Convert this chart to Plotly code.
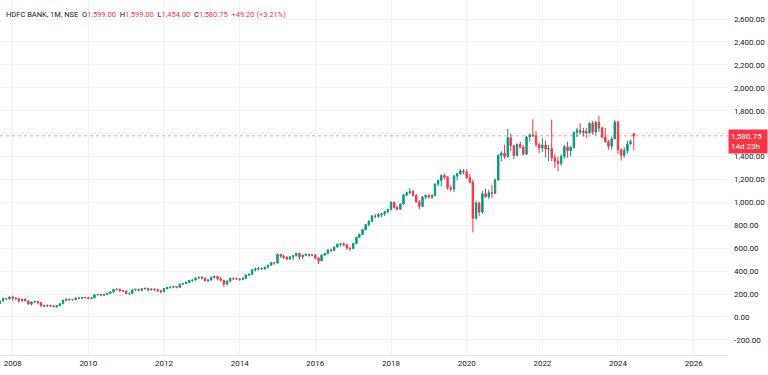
import pandas as pd
import plotly.graph_objects as go

# Monthly candles, HDFC BANK (NSE), split-adjusted, Sep 2007 - Jun 2024
start_month = "2007-09-01"

opens = [
    118, 140, 160, 158,
    174, 165, 160, 140, 156, 140, 112, 130, 136, 125, 100, 95,
    102, 95, 89, 98, 115, 146, 155, 152, 150, 166, 162, 170,
    168, 160, 166, 194, 196, 190, 196, 206, 218, 242, 240, 228,
    226, 205, 206, 236, 240, 232, 246, 250, 236, 242, 240, 230,
    220, 248, 256, 260, 266, 258, 286, 292, 300, 318, 322, 340,
    346, 338, 316, 322, 346, 354, 334, 320, 288, 314, 338, 334,
    332, 328, 338, 366, 372, 410, 420, 424, 420, 434, 452, 474,
    470, 545, 530, 520, 505, 525, 535, 555, 525, 538, 545, 538,
    542, 515, 490, 540, 555, 585, 580, 610, 635, 638, 628, 602,
    598, 640, 695, 720, 762, 805, 835, 882, 878, 893, 900, 920,
    938, 1000, 955, 940, 985, 1065, 1085, 1095, 1060, 1005, 965, 1045,
    1060, 1045, 1060, 1160, 1190, 1235, 1220, 1125, 1115, 1230, 1250, 1275,
    1265, 1215, 1175, 862, 995, 915, 1075, 1050, 1085, 1080, 1195, 1410,
    1430, 1400, 1565, 1495, 1410, 1505, 1482, 1420, 1570, 1588, 1580, 1505,
    1475, 1500, 1465, 1470, 1390, 1360, 1340, 1400, 1485, 1450, 1480, 1610,
    1630, 1610, 1620, 1605, 1690, 1615, 1700, 1650, 1570, 1530, 1490, 1555,
    1700, 1460, 1410, 1450, 1510, 1599,
]
highs = [
    142, 172, 166, 180,
    186, 172, 162, 160, 158, 142, 135, 140, 140, 128, 108, 105,
    104, 100, 102, 118, 150, 160, 160, 158, 168, 175, 172, 175,
    175, 170, 198, 202, 198, 200, 212, 222, 245, 252, 250, 236,
    230, 212, 238, 248, 245, 250, 255, 252, 250, 250, 245, 236,
    250, 262, 266, 270, 270, 290, 298, 305, 322, 330, 345, 352,
    356, 345, 332, 350, 362, 358, 348, 324, 318, 342, 345, 342,
    340, 342, 372, 380, 418, 432, 435, 430, 440, 455, 478, 480,
    555, 550, 545, 530, 530, 540, 560, 562, 545, 555, 552, 550,
    545, 520, 545, 560, 590, 595, 615, 640, 648, 650, 640, 610,
    648, 700, 728, 768, 810, 845, 890, 900, 905, 910, 925, 945,
    1010, 1005, 970, 990, 1075, 1095, 1125, 1110, 1075, 1020, 1055, 1070,
    1075, 1070, 1165, 1200, 1245, 1250, 1230, 1150, 1240, 1260, 1290, 1290,
    1290, 1250, 1200, 1015, 1005, 1100, 1120, 1110, 1150, 1210, 1420, 1445,
    1505, 1640, 1600, 1500, 1515, 1530, 1500, 1580, 1600, 1725, 1620, 1520,
    1560, 1540, 1500, 1722, 1420, 1400, 1420, 1500, 1530, 1490, 1620, 1650,
    1690, 1650, 1650, 1700, 1710, 1710, 1757, 1660, 1650, 1545, 1570, 1720,
    1710, 1470, 1480, 1540, 1550, 1599,
]
lows = [
    115, 136, 145, 155,
    140, 150, 125, 136, 138, 108, 100, 122, 110, 88, 85, 88,
    88, 86, 80, 96, 112, 140, 140, 145, 148, 155, 158, 163,
    155, 156, 165, 186, 180, 185, 192, 200, 215, 232, 220, 218,
    198, 190, 202, 228, 222, 222, 238, 222, 230, 225, 218, 205,
    218, 240, 248, 252, 250, 255, 280, 286, 296, 306, 318, 330,
    332, 312, 306, 318, 334, 318, 310, 262, 274, 300, 322, 324,
    315, 320, 335, 355, 365, 398, 405, 410, 412, 422, 448, 455,
    468, 515, 505, 495, 500, 495, 530, 500, 505, 530, 525, 528,
    500, 462, 488, 530, 545, 565, 575, 605, 615, 620, 585, 575,
    592, 635, 690, 715, 755, 790, 830, 860, 865, 870, 880, 905,
    930, 945, 930, 935, 980, 1050, 1070, 1050, 995, 940, 960, 1030,
    1035, 1030, 1055, 1140, 1140, 1200, 1110, 1095, 1090, 1190, 1240, 1245,
    1205, 1165, 738, 850, 880, 900, 1040, 1030, 1040, 1075, 1190, 1360,
    1380, 1390, 1450, 1380, 1400, 1470, 1410, 1415, 1530, 1570, 1480, 1430,
    1440, 1390, 1360, 1360, 1300, 1272, 1320, 1380, 1390, 1400, 1470, 1570,
    1590, 1575, 1560, 1600, 1590, 1585, 1615, 1555, 1520, 1460, 1460, 1550,
    1420, 1365, 1390, 1430, 1505, 1454,
]
closes = [
    140, 160, 158, 174,
    165, 160, 140, 156, 140, 112, 130, 136, 125, 100, 95, 102,
    95, 89, 98, 115, 146, 155, 152, 150, 166, 162, 170, 168,
    160, 166, 194, 196, 190, 196, 206, 218, 242, 240, 228, 226,
    205, 206, 236, 240, 232, 246, 250, 236, 242, 240, 230, 220,
    248, 256, 260, 266, 258, 286, 292, 300, 318, 322, 340, 346,
    338, 316, 322, 346, 354, 334, 320, 288, 314, 338, 334, 332,
    328, 338, 366, 372, 410, 420, 424, 420, 434, 452, 474, 470,
    545, 530, 520, 505, 525, 535, 555, 525, 538, 545, 538, 542,
    515, 490, 540, 555, 585, 580, 610, 635, 638, 628, 602, 598,
    640, 695, 720, 762, 805, 835, 882, 878, 893, 900, 920, 938,
    1000, 955, 940, 985, 1065, 1085, 1095, 1060, 1005, 965, 1045, 1060,
    1045, 1060, 1160, 1190, 1235, 1220, 1125, 1115, 1230, 1250, 1275, 1265,
    1215, 1175, 862, 995, 915, 1075, 1050, 1085, 1080, 1195, 1410, 1430,
    1400, 1565, 1495, 1410, 1505, 1482, 1420, 1570, 1588, 1580, 1505, 1475,
    1500, 1465, 1470, 1390, 1360, 1340, 1400, 1485, 1450, 1480, 1610, 1630,
    1610, 1620, 1605, 1690, 1615, 1700, 1650, 1570, 1530, 1490, 1555, 1700,
    1460, 1410, 1450, 1510, 1531.55, 1580.75,
]

year_ticks = ["2008", "2010", "2012", "2014", "2016", "2018", "2020", "2022", "2024", "2026"]
price_ticks = [-200, 0, 200, 400, 600, 800, 1000, 1200, 1400, 1600, 1800, 2000, 2200, 2400, 2600]
hidden_price_ticks = [1600]  # covered by the last-price label in the reference
last_price = 1580.75
header_values = {"O": "1,599.00", "H": "1,599.00", "L": "1,454.00", "C": "1,580.75"}
change_text = "+49.20 (+3.21%)"
countdown = "14d 23h"

GREEN = "#089981"
RED = "#F23645"
TEXT = "#131722"
GRID = "#f0f3fa"
FONT = "Roboto, Arial, sans-serif"

dates = pd.date_range(start_month, periods=len(closes), freq="MS")

fig = go.Figure(
    go.Candlestick(
        x=dates,
        open=opens,
        high=highs,
        low=lows,
        close=closes,
        increasing=dict(line=dict(color=GREEN, width=1), fillcolor=GREEN),
        decreasing=dict(line=dict(color=RED, width=1), fillcolor=RED),
        whiskerwidth=0,
        hoverinfo="skip",
        showlegend=False,
    )
)

# last-price dotted line
fig.add_shape(
    type="line", xref="paper", x0=0, x1=1, yref="y", y0=last_price, y1=last_price,
    line=dict(color=RED, width=1, dash="dot"), opacity=0.5,
)

# price label on the scale
fig.add_annotation(
    xref="paper", x=1, xanchor="left", yref="y", y=last_price, yanchor="top", yshift=7,
    text=f"{last_price:,.2f}<br>{countdown}", align="left", showarrow=False,
    font=dict(family=FONT, size=8, color="white"), bgcolor=RED, borderpad=2, width=34,
)

# header legend
sep = "\u00a0\u00a0"
parts = [f'<span style="color:{TEXT}">HDFC BANK, 1M, NSE</span>']
for k, v in header_values.items():
    parts.append(f'<span style="color:{TEXT}">{k}</span><span style="color:{RED}">{v}</span>')
parts.append(f'<span style="color:{RED}">{change_text}</span>')
fig.add_annotation(
    xref="paper", x=0, xanchor="left", xshift=4, yref="paper", y=1, yanchor="middle", yshift=-14,
    text=sep.join(parts), showarrow=False, font=dict(family=FONT, size=7.5, color=TEXT),
)

fig.update_layout(
    width=768, height=375,
    margin=dict(l=0, r=40, t=0, b=20),
    paper_bgcolor="white", plot_bgcolor="white",
    font=dict(family=FONT, size=8, color=TEXT),
    hovermode=False,
    xaxis=dict(
        type="date", range=["2007-09-01", "2026-11-28"],
        tickvals=[f"{y}-01-01" for y in year_ticks], ticktext=year_ticks,
        showgrid=True, gridcolor=GRID, gridwidth=1,
        showline=True, linecolor="#e0e3eb", linewidth=1, mirror=False,
        ticks="", rangeslider=dict(visible=False), zeroline=False,
        tickfont=dict(family=FONT, size=8, color=TEXT),
    ),
    yaxis=dict(
        side="right", range=[-332, 2766],
        tickvals=price_ticks,
        ticktext=["" if v in hidden_price_ticks else f"{v:,.2f}" for v in price_ticks],
        showgrid=True, gridcolor=GRID, gridwidth=1,
        zeroline=False, ticks="", showline=False, ticklabelstandoff=5,
        tickfont=dict(family=FONT, size=8, color=TEXT),
    ),
)

fig.write_html(
    "out.html",
    config={"displayModeBar": False},
    post_script="document.body.style.margin='0';document.body.style.overflow='hidden';",
)
